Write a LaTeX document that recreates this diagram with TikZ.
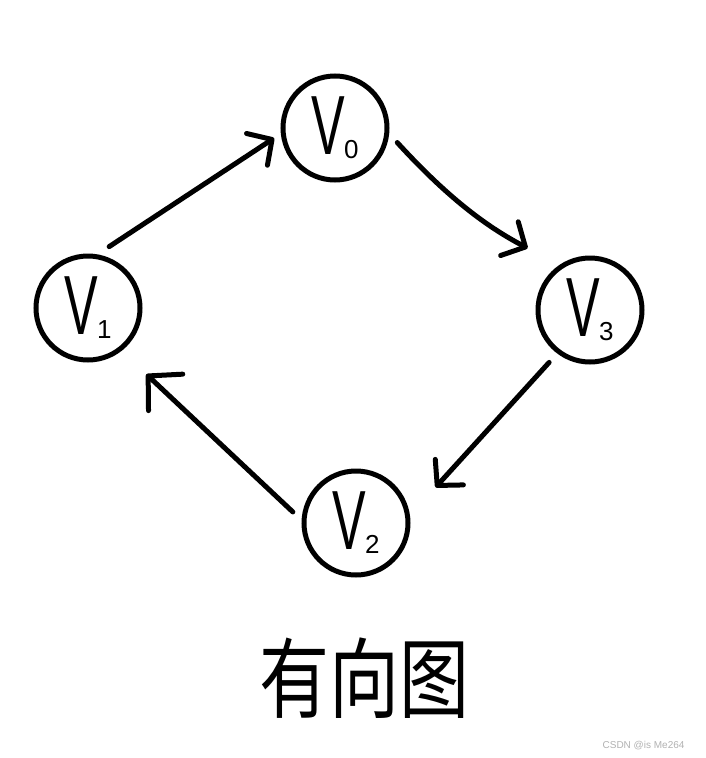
\documentclass[tikz,border=0pt]{standalone}
\usepackage{fontspec}
\usepackage{graphicx}
\setmainfont{Liberation Sans}
\newfontfamily\cjk{Noto Sans CJK SC}
\usetikzlibrary{arrows.meta}
\newcommand{\vlab}[1]{\scalebox{0.6}[1]{\fontsize{84}{84}\selectfont V}\kern-1pt\raisebox{-4pt}{\fontsize{26}{26}\selectfont #1}}
\begin{document}
\begin{tikzpicture}[x=1pt,y=-1pt,
  vert/.style={circle,draw,line width=5pt,minimum size=104pt,inner sep=0pt},
  edge/.style={line width=5pt,line cap=round,-{Straight Barb[round,length=18pt,width=38pt]}}]
\fill[white] (0,0) rectangle (706,758);
\path[use as bounding box] (0,0) rectangle (706,758);
\node[vert] (v0) at (335,128) {\vlab{0}};
\node[vert] (v1) at (88,308) {\vlab{1}};
\node[vert] (v3) at (590,310) {\vlab{3}};
\node[vert] (v2) at (356,523) {\vlab{2}};
\draw[edge,shorten <=14pt,shorten >=8pt] (v1.80) -- (v0.186);
\draw[edge,shorten <=12pt,shorten >=36pt] (v0.-6) to[bend right=10] (v3.124);
\draw[edge,shorten <=12pt,shorten >=38pt] (v3.233) -- (v2.8);
\draw[edge,-{Straight Barb[round,length=24pt,width=50pt]},shorten <=12pt,shorten >=34pt] (v2.177) -- (v1.-52);
\node (cap) at (364,678) {\scalebox{1}[1.25]{\cjk\fontsize{70}{70}\selectfont 有向图}};
\node[text=gray!60,font=\fontsize{10}{10}\selectfont,anchor=east] (wm) at (688,746) {CSDN @is Me264};
\end{tikzpicture}
\end{document}
